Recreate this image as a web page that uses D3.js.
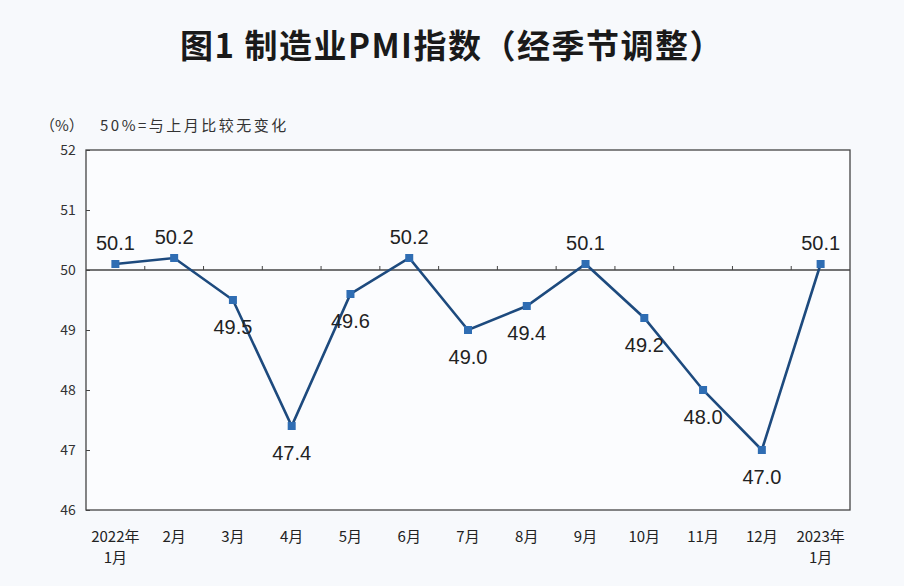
<!DOCTYPE html>
<html>
<head>
<meta charset="utf-8">
<script src="https://cdn.jsdelivr.net/npm/d3@7"></script>
<style>
  body { margin: 0; background: #f7f9fc; }
  svg { display: block; font-family: "Noto Sans CJK SC", "DejaVu Sans", sans-serif; }
</style>
</head>
<body>
<svg></svg>
<script>
// Data
const months = ["2022年\n1月", "2月", "3月", "4月", "5月", "6月", "7月", "8月", "9月", "10月", "11月", "12月", "2023年\n1月"];
const pmi = [50.1, 50.2, 49.5, 47.4, 49.6, 50.2, 49.0, 49.4, 50.1, 49.2, 48.0, 47.0, 50.1];
const yTicks = [46, 47, 48, 49, 50, 51, 52];

const width = 904, height = 586;
const svg = d3.select("svg").attr("width", width).attr("height", height);

const margin = { left: 86, right: 54, top: 150, bottom: 76 };

const x = d3.scalePoint()
    .domain(months)
    .range([margin.left, width - margin.right])
    .padding(0.5);

const y = d3.scaleLinear()
    .domain([46, 52])
    .range([height - margin.bottom, margin.top]);

// Title
svg.append("text")
    .attr("x", 452).attr("y", 58)
    .attr("text-anchor", "middle")
    .attr("font-size", 33)
    .attr("font-weight", "bold")
    .attr("letter-spacing", 1.5)
    .attr("fill", "#1a1a1a")
    .text("图1  制造业PMI指数（经季节调整）");

svg.append("text")
    .attr("x", 40).attr("y", 131)
    .attr("font-size", 15)
    .attr("fill", "#333")
    .text("（%）");
svg.append("text")
    .attr("x", 100).attr("y", 131)
    .attr("font-size", 15)
    .attr("letter-spacing", 2.5)
    .attr("fill", "#333")
    .text("50%=与上月比较无变化");

// Plot frame
svg.append("rect")
    .attr("x", margin.left).attr("y", margin.top)
    .attr("width", width - margin.left - margin.right)
    .attr("height", height - margin.top - margin.bottom)
    .attr("fill", "#fbfcfe")
    .attr("stroke", "#444")
    .attr("stroke-width", 1.3);

// Y axis ticks (inward) and labels
const yAxis = svg.append("g").attr("transform", `translate(${margin.left},0)`)
    .call(d3.axisRight(y).tickValues(yTicks).tickSize(4).tickFormat(""));
yAxis.select(".domain").remove();
yAxis.selectAll("line").attr("stroke", "#444");

svg.append("g").selectAll("text")
    .data(yTicks)
    .enter().append("text")
    .attr("x", 68)
    .attr("y", d => y(d) + 5)
    .attr("text-anchor", "middle")
    .attr("font-size", 14)
    .attr("fill", "#333")
    .text(d => d);

// 50 reference line with small ticks between months
svg.append("line")
    .attr("x1", margin.left).attr("x2", width - margin.right)
    .attr("y1", y(50)).attr("y2", y(50))
    .attr("stroke", "#444").attr("stroke-width", 1.3);

const step = x.step();
svg.append("g").selectAll("line")
    .data(months.slice(1))
    .enter().append("line")
    .attr("x1", d => x(d) - step / 2).attr("x2", d => x(d) - step / 2)
    .attr("y1", y(50)).attr("y2", y(50) - 4)
    .attr("stroke", "#444");

// X labels
const xl = svg.append("g").selectAll("text")
    .data(months)
    .enter().append("text")
    .attr("text-anchor", "middle")
    .attr("font-size", 15)
    .attr("fill", "#222");
xl.each(function(d) {
    const parts = d.split("\n");
    const t = d3.select(this);
    parts.forEach((p, i) => {
        t.append("tspan")
            .attr("x", x(d))
            .attr("y", 542 + i * 21)
            .text(p);
    });
});

// Line
const line = d3.line()
    .x((d, i) => x(months[i]))
    .y(d => y(d));

svg.append("path")
    .datum(pmi)
    .attr("d", line)
    .attr("fill", "none")
    .attr("stroke", "#1d4a7e")
    .attr("stroke-width", 2.6);

// Markers
svg.append("g").selectAll("rect")
    .data(pmi)
    .enter().append("rect")
    .attr("x", (d, i) => x(months[i]) - 4)
    .attr("y", d => y(d) - 4)
    .attr("width", 8).attr("height", 8)
    .attr("fill", "#2f6db3");

// Value labels
svg.append("g").selectAll("text")
    .data(pmi)
    .enter().append("text")
    .attr("x", (d, i) => x(months[i]))
    .attr("y", d => d >= 50 ? y(d) - 14 : y(d) + 34)
    .attr("text-anchor", "middle")
    .attr("font-family", "Liberation Sans, Arial, sans-serif")
    .attr("font-size", 20)
    .attr("fill", "#222")
    .text(d => d.toFixed(1));
</script>
</body>
</html>
